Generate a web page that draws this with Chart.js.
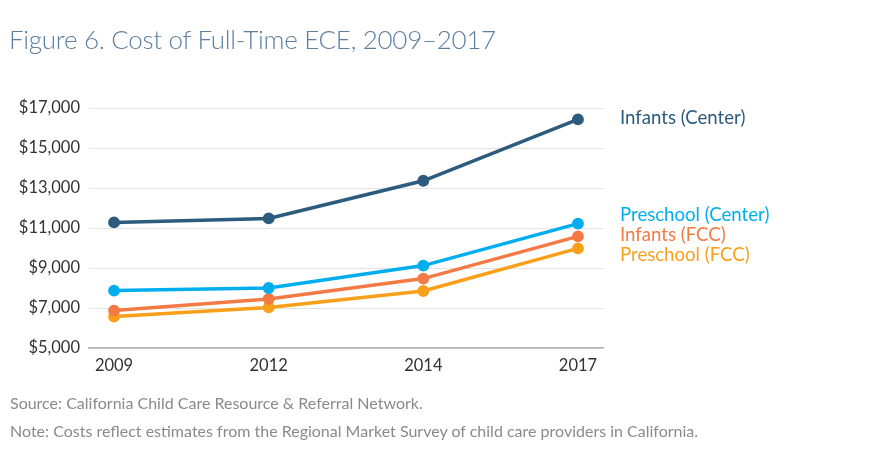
<!DOCTYPE html>
<html>
<head>
<meta charset="utf-8">
<script src="https://cdn.jsdelivr.net/npm/chart.js@4.4.1/dist/chart.umd.min.js"></script>
<style>
  body { margin: 0; background: #fff; }
  #wrap { position: relative; width: 894px; height: 458px; font-family: Lato, sans-serif; }
  #myChart { position: absolute; left: 0; top: 0; }
  .title { position: absolute; left: 9px; top: 23px; font-size: 26px; letter-spacing: -0.3px; font-weight: 300; color: #5d7f9f; white-space: nowrap; }
  .note { position: absolute; left: 10px; font-size: 16px; color: #8a8a8a; white-space: nowrap; }
</style>
</head>
<body>
<div id="wrap">
  <canvas id="myChart" width="894" height="458"></canvas>
  <div class="title">Figure 6. Cost of Full-Time ECE, 2009–2017</div>
  <div class="note" style="top:393px">Source: California Child Care Resource &amp; Referral Network.</div>
  <div class="note" style="top:421px">Note: Costs reflect estimates from the Regional Market Survey of child care providers in California.</div>
</div>
<script>
const years = ['2009', '2012', '2014', '2017'];
const infantsCenter = [11280, 11480, 13360, 16430];
const preschoolCenter = [7870, 8000, 9120, 11220];
const infantsFCC = [6870, 7450, 8470, 10580];
const preschoolFCC = [6570, 7030, 7850, 9980];
const yTicks = [5000, 7000, 9000, 11000, 13000, 15000, 17000];

const names = ['Infants (Center)', 'Preschool (Center)', 'Infants (FCC)', 'Preschool (FCC)'];
const colors = ['#2c5b7e', '#00aeef', '#f47a45', '#f9a01b'];
const series = [infantsCenter, preschoolCenter, infantsFCC, preschoolFCC];

// labels next to the last point, pushed apart when they overlap
const endLabels = {
  id: 'endLabels',
  afterDatasetsDraw(chart) {
    const ctx = chart.ctx;
    const ys = chart.data.datasets.map((ds, i) => {
      const pts = chart.getDatasetMeta(i).data;
      return { i: i, y: pts[pts.length - 1].y };
    }).sort((a, b) => a.y - b.y);
    const gap = 20;
    for (let k = 0; k < 30; k++) {
      for (let j = 1; j < ys.length; j++) {
        const d = ys[j].y - ys[j - 1].y;
        if (d < gap) {
          const m = (gap - d) / 2;
          ys[j - 1].y -= m;
          ys[j].y += m;
        }
      }
    }
    ctx.save();
    ctx.font = '18.6px Lato, sans-serif';
    ctx.textBaseline = 'middle';
    ctx.textAlign = 'left';
    ys.forEach(o => {
      ctx.fillStyle = colors[o.i];
      ctx.fillText(names[o.i], chart.chartArea.right + 17, o.y - 1);
    });
    ctx.restore();
  }
};

const ctx = document.getElementById('myChart');
new Chart(ctx, {
  type: 'line',
  data: {
    datasets: series.map((s, i) => ({
      label: names[i],
      data: s.map((v, k) => ({ x: k, y: v })),
      borderColor: colors[i],
      backgroundColor: colors[i],
      borderWidth: 3.5,
      pointRadius: 4.2,
      pointHoverRadius: 4.2,
      tension: 0
    }))
  },
  options: {
    responsive: false,
    animation: false,
    layout: { padding: { top: 108, right: 291, bottom: 80, left: 0 } },
    plugins: { legend: { display: false }, tooltip: { enabled: false } },
    scales: {
      x: {
        type: 'linear',
        min: -0.162,
        max: 3.162,
        afterBuildTicks: (scale) => { scale.ticks = years.map((y, k) => ({ value: k })); },
        afterFit: (scale) => { scale.height = 30; },
        ticks: {
          callback: (v) => years[v],
          color: '#333',
          font: { family: 'Lato', size: 16.5 },
          padding: 8,
          maxRotation: 0
        },
        grid: { display: false, drawTicks: false },
        border: { display: true, color: '#b0b0b0', width: 1.5 }
      },
      y: {
        min: 5000,
        max: 17000,
        afterBuildTicks: (scale) => { scale.ticks = yTicks.map(v => ({ value: v })); },
        afterFit: (scale) => { scale.width = 89; },
        ticks: {
          callback: (v) => '$' + v.toLocaleString('en-US'),
          color: '#333',
          font: { family: 'Lato', size: 16.5 },
          padding: 9
        },
        grid: { color: '#e3e3e3', drawTicks: false, lineWidth: 1 },
        border: { display: false }
      }
    }
  },
  plugins: [endLabels]
});
</script>
</body>
</html>
